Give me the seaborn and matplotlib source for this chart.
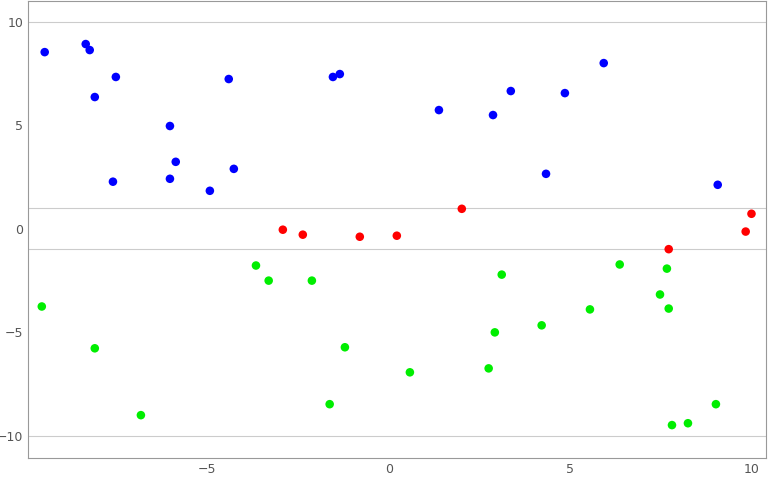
import matplotlib
matplotlib.use("Agg")
import matplotlib.pyplot as plt
import seaborn as sns
import pandas as pd
from matplotlib.ticker import MultipleLocator

blue_x = [-9.48,-8.35,-8.24,-8.10,-7.52,-7.60,-6.03,-5.87,-6.03,-4.93,-4.41,-4.27,-1.54,-1.35,1.38,2.87,3.36,4.33,4.85,5.92,9.06]
blue_y = [8.53,8.92,8.63,6.36,7.33,2.27,4.96,3.23,2.41,1.83,7.23,2.89,7.33,7.47,5.73,5.49,6.65,2.65,6.55,8.0,2.12]
red_x = [-2.92,-2.37,-0.80,0.22,2.01,7.71,9.83,9.99]
red_y = [-0.05,-0.29,-0.39,-0.34,0.96,-0.99,-0.14,0.72]
green_x = [-9.56,-8.10,-6.83,-3.66,-3.31,-2.12,-1.21,-1.63,0.58,3.11,2.92,2.75,4.21,5.54,6.36,7.47,7.66,7.71,7.80,8.24,9.01]
green_y = [-3.76,-5.78,-9.01,-1.78,-2.51,-2.51,-5.73,-8.48,-6.94,-2.22,-5.01,-6.75,-4.67,-3.90,-1.73,-3.18,-1.93,-3.86,-9.49,-9.40,-8.48]

df = pd.concat([
    pd.DataFrame({"x": blue_x, "y": blue_y, "g": "blue"}),
    pd.DataFrame({"x": red_x, "y": red_y, "g": "red"}),
    pd.DataFrame({"x": green_x, "y": green_y, "g": "green"}),
])

sns.set_style("white")
fig = plt.figure(figsize=(7.68, 4.79), dpi=100)
ax = fig.add_axes([28/768, 21/479, 738/768, 457/479])
for yv in [10, 1, -1, -10]:
    ax.axhline(yv, color="#cccccc", lw=0.8, zorder=0)
sns.scatterplot(data=df, x="x", y="y", hue="g",
                palette={"blue": "#0000ff", "red": "#ff0000", "green": "#00ee00"},
                s=38, edgecolor="none", legend=False, ax=ax, zorder=3)
ax.set_xlim(-9.94, 10.39)
ax.set_ylim(-11.08, 11.0)
ax.set_xlabel(""); ax.set_ylabel("")
ax.xaxis.set_major_locator(MultipleLocator(5))
ax.xaxis.set_minor_locator(MultipleLocator(1))
ax.yaxis.set_major_locator(MultipleLocator(5))
ax.yaxis.set_minor_locator(MultipleLocator(1))
ax.tick_params(which="both", direction="in", colors="#999999", labelcolor="#555555", labelsize=9)
ax.tick_params(which="major", length=5)
ax.tick_params(which="minor", length=2.5)
for s in ax.spines.values():
    s.set_color("#999999"); s.set_linewidth(0.8)
fig.savefig("out.png", dpi=100)
